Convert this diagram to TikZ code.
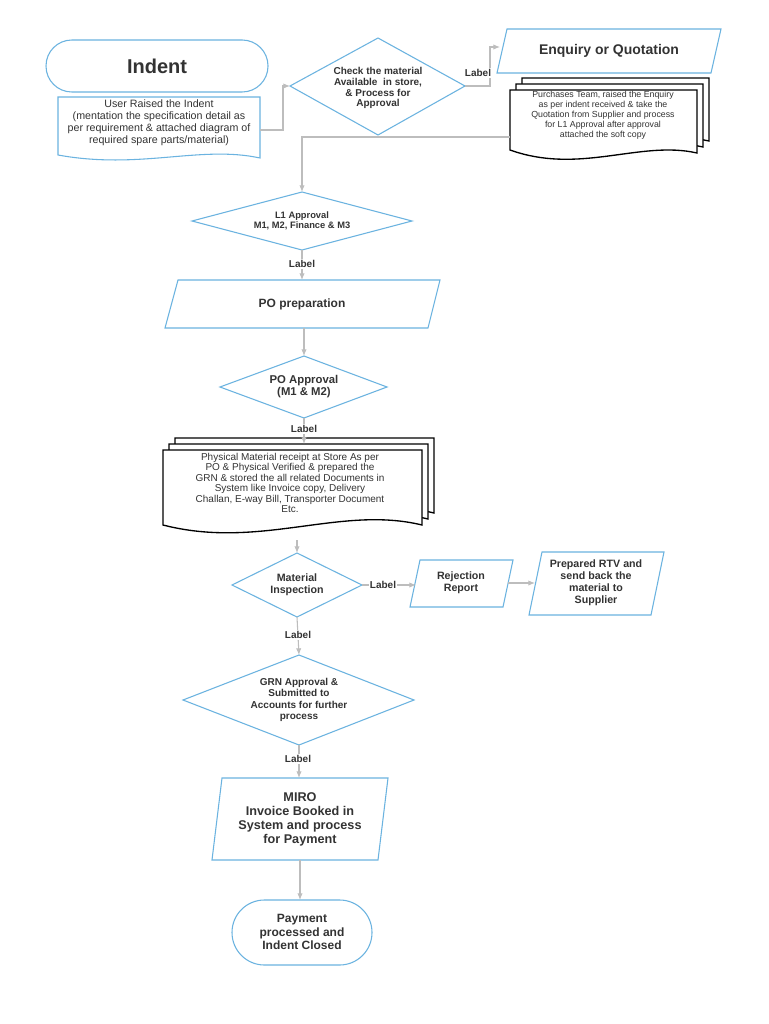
\documentclass[tikz,border=0pt]{standalone}
\usepackage{fontspec}
\setmainfont{Liberation Sans}
\usetikzlibrary{arrows.meta}
\definecolor{bl}{HTML}{6BB3E0}
\definecolor{gr}{HTML}{BDBDBD}
\definecolor{tx}{HTML}{333333}
\begin{document}
\begin{tikzpicture}[x=0.75pt,y=-0.75pt,
  bs/.style={draw=bl,line width=0.8pt,fill=white},
  ks/.style={draw=black,line width=1pt,fill=white},
  ar/.style={draw=gr,line width=0.8pt,-{Latex[length=5pt,width=4pt]}},
  t/.style={text=tx,align=center,font=\fontsize{7.5}{8.2}\selectfont\bfseries},
  tn/.style={text=tx,align=center,font=\fontsize{8}{9}\selectfont},
  lb/.style={text=tx,font=\fontsize{7.5}{8}\selectfont\bfseries,fill=white,inner sep=1pt}]
\useasboundingbox (0,0) rectangle (768,1024);
\fill[white] (0,0) rectangle (768,1024);
% Indent
\draw[bs,rounded corners=19.4pt] (46,40) rectangle (268,92);
\node[t,font=\fontsize{15}{16}\selectfont\bfseries] (ind) at (157,66) {Indent};
\draw[bs] (58,97) -- (260,97) -- (260,158) .. controls (200,145) and (140,170) .. (58,155) -- cycle;
\node[tn] (user) at (159,123) {User Raised the Indent\\(mentation the specification detail as\\per requirement \& attached diagram of\\required spare parts/material)};
% Check diamond
\draw[bs] (378,38) -- (465,86) -- (378,135) -- (290,86) -- cycle;
\node[t] (chk) at (378,88) {Check the material\\Available\ \ in store,\\\& Process for\\Approval};
% Enquiry
\draw[bs] (507,29) -- (721,29) -- (711,73) -- (497,73) -- cycle;
\node[t,font=\fontsize{10.5}{12}\selectfont\bfseries] (enq) at (609,51) {Enquiry or Quotation};
% multi doc 1
\foreach \d in {12,6,0}{
 \draw[ks] (510+\d,90-\d) -- (697+\d,90-\d) -- (697+\d,153-\d) .. controls (640+\d,140-\d) and (580+\d,175-\d) .. (510+\d,150-\d) -- cycle;}
\node[tn,font=\fontsize{6.6}{7.6}\selectfont] (pur) at (603,115) {Purchases Team, raised the Enquiry\\as per indent received \& take the\\Quotation from Supplier and process\\for L1 Approval after approval\\attached the soft copy};
% L1
\draw[bs] (302,192) -- (412,221) -- (302,250) -- (192,221) -- cycle;
\node[t,font=\fontsize{7}{8}\selectfont\bfseries] (l1) at (302,221) {L1 Approval\\M1, M2, Finance \& M3};
% PO prep
\draw[bs] (178,280) -- (440,280) -- (428,328) -- (165,328) -- cycle;
\node[t,font=\fontsize{9}{10}\selectfont\bfseries] (po) at (302,304) {PO preparation};
% PO approval
\draw[bs] (304,356) -- (387,387) -- (304,418) -- (220,387) -- cycle;
\node[t,font=\fontsize{8.5}{9}\selectfont\bfseries] (poa) at (304,387) {PO Approval\\(M1 \& M2)};
% multi doc 2
\foreach \d in {12,6,0}{
 \draw[ks] (163+\d,450-\d) -- (422+\d,450-\d) -- (422+\d,525-\d) .. controls (340+\d,505-\d) and (260+\d,550-\d) .. (163+\d,525-\d) -- cycle;}
\node[tn,font=\fontsize{7.5}{7.8}\selectfont] (phy) at (290,483) {Physical Material receipt at Store As per\\PO \& Physical Verified \& prepared the\\GRN \& stored the all related Documents in\\System like Invoice copy, Delivery\\Challan, E-way Bill, Transporter Document\\Etc.};
% Material inspection
\draw[bs] (297,553) -- (362,585) -- (297,617) -- (232,585) -- cycle;
\node[t,font=\fontsize{8}{9}\selectfont\bfseries] (mi) at (297,585) {Material\\Inspection};
% Rejection
\draw[bs] (420,560) -- (513,560) -- (503,607) -- (410,607) -- cycle;
\node[t,font=\fontsize{8}{9}\selectfont\bfseries] (rej) at (461,583) {Rejection\\Report};
% RTV
\draw[bs] (542,552) -- (664,552) -- (651,615) -- (529,615) -- cycle;
\node[t,font=\fontsize{8}{9}\selectfont\bfseries] (rtv) at (596,583) {Prepared RTV and\\send back the\\material to\\Supplier};
% GRN
\draw[bs] (299,655) -- (414,700) -- (299,745) -- (183,700) -- cycle;
\node[t,font=\fontsize{7.5}{8.5}\selectfont\bfseries] (grn) at (299,700) {GRN Approval \&\\Submitted to\\Accounts for further\\process};
% MIRO
\draw[bs] (222,778) -- (388,778) -- (378,860) -- (212,860) -- cycle;
\node[t,font=\fontsize{9.5}{10.5}\selectfont\bfseries] (miro) at (300,819) {MIRO\\Invoice Booked in\\System and process\\for Payment};
% Payment
\draw[bs,rounded corners=24.3pt] (232,900) rectangle (372,965);
\node[t,font=\fontsize{9}{10}\selectfont\bfseries] (pay) at (302,932) {Payment\\processed and\\Indent Closed};
% coordinates
\coordinate (u1) at (260,130); \coordinate (c1) at (290,86);
\coordinate (c2) at (465,86); \coordinate (e1) at (500,47);
\coordinate (d1) at (510,137); \coordinate (l1t) at (302,192);
\coordinate (l1b) at (302,250); \coordinate (pot) at (302,280);
\coordinate (pob) at (304,328); \coordinate (poat) at (304,356);
\coordinate (poab) at (304,418); \coordinate (pht) at (304,444);
\coordinate (phb) at (297,540); \coordinate (mit) at (297,553);
\coordinate (mir) at (362,585); \coordinate (rejl) at (416,585);
\coordinate (rejr) at (508,583); \coordinate (rtvl) at (535,583);
\coordinate (mib) at (297,617); \coordinate (grnt) at (299,655);
\coordinate (grnb) at (299,745); \coordinate (mirot) at (299,778);
\coordinate (mirob) at (300,860); \coordinate (payt) at (300,900);
\draw[ar] (u1) -- (283,130) -- (283,86) -- (c1);
\draw[ar] (c2) -- (490,86) -- (490,47) -- (e1);
\node[lb] (lab1) at (478,73) {Label};
\draw[ar] (d1) -- (302,137) -- (l1t);
\draw[ar] (l1b) -- (pot);
\node[lb] (lab2) at (302,264) {Label};
\draw[ar] (pob) -- (poat);
\draw[ar] (poab) -- (pht);
\node[lb] (lab3) at (304,429) {Label};
\draw[ar] (phb) -- (mit);
\draw[ar] (mir) -- (rejl);
\node[lb] (lab4) at (383,585) {Label};
\draw[ar] (rejr) -- (rtvl);
\draw[ar] (mib) -- (grnt);
\node[lb] (lab5) at (298,635) {Label};
\draw[ar] (grnb) -- (mirot);
\node[lb] (lab6) at (298,759) {Label};
\draw[ar] (mirob) -- (payt);
\end{tikzpicture}
\end{document}
